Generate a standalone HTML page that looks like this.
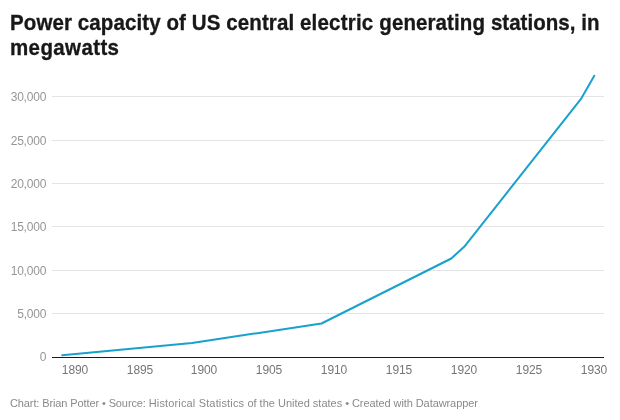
<!DOCTYPE html>
<html>
<head>
<meta charset="utf-8">
<style>
html,body{margin:0;padding:0;background:#fff;}
body{-webkit-font-smoothing:antialiased;width:620px;height:420px;position:relative;overflow:hidden;font-family:"Liberation Sans",sans-serif;}
.title,.yl,.xl,.foot{will-change:transform;}
.title{position:absolute;left:10px;width:610px;height:25px;font-weight:bold;font-size:20.5px;line-height:25px;color:#181818;white-space:nowrap;letter-spacing:0.1px;-webkit-text-stroke:0.3px #181818;transform-origin:0 20px;transform:scaleY(1.08);}
.yl{position:absolute;left:0;width:46.2px;letter-spacing:-0.2px;text-align:right;font-size:12px;line-height:14px;color:#969696;}
.xl{position:absolute;top:363px;width:60px;letter-spacing:-0.1px;margin-left:-30.6px;text-align:center;font-size:12px;line-height:14px;color:#767676;}
.grid{position:absolute;left:52px;width:552px;height:1px;background:#e4e4e4;}
.base{position:absolute;left:52px;width:552px;height:1px;top:357px;background:#1a1a1a;}
.foot{position:absolute;left:10px;top:397px;font-size:11px;line-height:13px;color:#8a8a8a;white-space:nowrap;}
svg{position:absolute;left:0;top:0;}
</style>
</head>
<body>
<div class="title" id="t1" style="top:9.7px">Power capacity of US central <span style="letter-spacing:0.2px">electric </span>generating <span style="letter-spacing:0.03px">stations, in</span></div>
<div class="title" id="t2" style="top:34.9px;letter-spacing:0.38px">megawatts</div>

<div class="grid" style="top:96px"></div>
<div class="grid" style="top:140px"></div>
<div class="grid" style="top:183px"></div>
<div class="grid" style="top:226px"></div>
<div class="grid" style="top:270px"></div>
<div class="grid" style="top:313px"></div>
<div class="base"></div>

<div class="yl" style="top:90px">30,000</div>
<div class="yl" style="top:134px">25,000</div>
<div class="yl" style="top:177px">20,000</div>
<div class="yl" style="top:220px">15,000</div>
<div class="yl" style="top:264px">10,000</div>
<div class="yl" style="top:307px">5,000</div>
<div class="yl" style="top:350px">0</div>

<div class="xl" style="left:75.2px">1890</div>
<div class="xl" style="left:140.1px">1895</div>
<div class="xl" style="left:205.0px">1900</div>
<div class="xl" style="left:269.9px">1905</div>
<div class="xl" style="left:334.8px">1910</div>
<div class="xl" style="left:399.7px">1915</div>
<div class="xl" style="left:464.6px">1920</div>
<div class="xl" style="left:529.5px">1925</div>
<div class="xl" style="left:594.4px">1930</div>

<svg width="620" height="420" viewBox="0 0 620 420">
<polyline id="ln" fill="none" stroke="#18a1cd" stroke-width="2" stroke-linecap="round" stroke-linejoin="round" points="62.2,355.3 192,343 321.5,323.5 451.3,258.5 464.4,246.6 581.4,98.3 594.3,75.8"/>
</svg>

<div class="foot" id="ft"><span style="letter-spacing:-0.11px">Chart: Brian Potter • Source: </span><span style="letter-spacing:0.15px">Historical Statistics </span>of the United states <span style="letter-spacing:-0.08px">• Created with Datawrapper</span></div>
</body>
</html>
